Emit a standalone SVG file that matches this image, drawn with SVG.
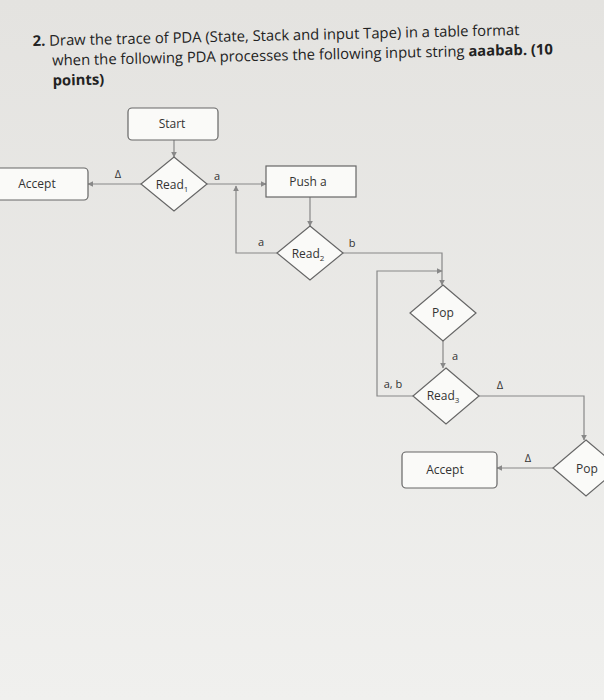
<svg xmlns="http://www.w3.org/2000/svg" width="604" height="700" viewBox="0 0 604 700">
<defs>
<marker id="ar" viewBox="0 0 10 10" refX="9" refY="5" markerWidth="5" markerHeight="5" orient="auto"><path d="M0,0 L10,5 L0,10 z" fill="#888"/></marker>
<linearGradient id="bg" x1="0" y1="0" x2="0" y2="1"><stop offset="0" stop-color="#e4e3e0"/><stop offset="1" stop-color="#f0f0ee"/></linearGradient>
</defs>
<style>
.n{fill:#fafaf8;stroke:#666;stroke-width:1.2}
.t{font-family:"Open Sans","Liberation Sans",sans-serif;font-size:12px;fill:#333;text-anchor:middle}
.l{font-family:"Open Sans","Liberation Sans",sans-serif;font-size:11px;fill:#333;text-anchor:middle}
.c{fill:none;stroke:#888;stroke-width:1.2}
.h{font-family:"Open Sans","Liberation Sans",sans-serif;font-size:14.8px;fill:#222}
</style>
<rect width="604" height="700" fill="url(#bg)"/>
<g id="title" transform="rotate(-1.3 300 50)">
<text class="h" x="33" y="40"><tspan font-weight="bold">2.</tspan> Draw the trace of PDA (State, Stack and input Tape) in a table format</text>
<text class="h" x="52" y="60">when the following PDA processes the following input string <tspan font-weight="bold">aaabab. (10</tspan></text>
<text class="h" x="52" y="80" font-weight="bold">points)</text>
</g>
<g id="connectors">
<path class="c" d="M174,140 V157" marker-end="url(#ar)"/>
<path class="c" d="M141,184 H88" marker-end="url(#ar)"/>
<path class="c" d="M207,184 H266" marker-end="url(#ar)"/>
<path class="c" d="M310,197 V226" marker-end="url(#ar)"/>
<path class="c" d="M277,253 H236 V186" marker-end="url(#ar)"/>
<path class="c" d="M343,253 H442 V285" marker-end="url(#ar)"/>
<path class="c" d="M443,341 V368" marker-end="url(#ar)"/>
<path class="c" d="M413,396 H377 V271 H442" marker-end="url(#ar)"/>
<path class="c" d="M479,396 H584 V440" marker-end="url(#ar)"/>
<path class="c" d="M553,468 H497" marker-end="url(#ar)"/>
<text class="l" x="118" y="178">Δ</text>
<text class="l" x="217" y="180">a</text>
<text class="l" x="261" y="246">a</text>
<text class="l" x="352" y="247">b</text>
<text class="l" x="455" y="360">a</text>
<text class="l" x="393" y="388">a, b</text>
<text class="l" x="500" y="389">Δ</text>
<text class="l" x="528" y="462">Δ</text>
</g>
<g id="start"><rect class="n" x="128" y="108" width="90" height="32" rx="4"/><text class="t" x="172" y="128">Start</text></g>
<g id="read1"><path class="n" d="M174,157 L207,184 L174,211 L141,184 z"/><text class="t" x="172" y="189">Read<tspan font-size="8" dy="3">1</tspan></text></g>
<g id="accept1"><rect class="n" x="-4" y="168" width="92" height="32" rx="4"/><text class="t" x="37" y="188">Accept</text></g>
<g id="pusha"><rect class="n" x="266" y="166" width="90" height="31"/><text class="t" x="308" y="186">Push a</text></g>
<g id="read2"><path class="n" d="M310,226 L343,253 L310,280 L277,253 z"/><text class="t" x="308" y="258">Read<tspan font-size="8" dy="3">2</tspan></text></g>
<g id="pop1"><path class="n" d="M443,285 L476,313 L443,341 L410,313 z"/><text class="t" x="443" y="317">Pop</text></g>
<g id="read3"><path class="n" d="M446,368 L479,396 L446,424 L413,396 z"/><text class="t" x="443" y="400">Read<tspan font-size="8" dy="3">3</tspan></text></g>
<g id="pop2"><path class="n" d="M586,440 L619,468 L586,496 L553,468 z"/><text class="t" x="587" y="473">Pop</text></g>
<g id="accept2"><rect class="n" x="402" y="452" width="95" height="36" rx="4"/><text class="t" x="445" y="474">Accept</text></g>
</svg>
